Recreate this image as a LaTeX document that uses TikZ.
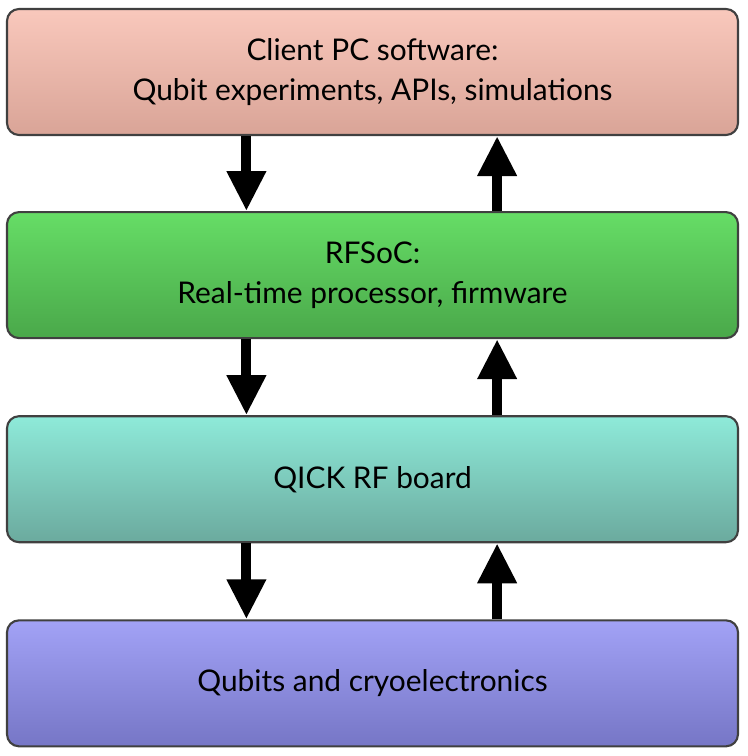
\documentclass[tikz,border=0pt]{standalone}
\usepackage{fontspec}
\setmainfont{Lato}
\usetikzlibrary{positioning,calc,arrows.meta}
\definecolor{pcTop}{HTML}{F9C8BC}\definecolor{pcBot}{HTML}{D9A497}
\definecolor{socTop}{HTML}{66DD66}\definecolor{socBot}{HTML}{4AA84A}
\definecolor{rfTop}{HTML}{8EEAD9}\definecolor{rfBot}{HTML}{6BAA9E}
\definecolor{qbTop}{HTML}{A2A2F6}\definecolor{qbBot}{HTML}{7676C6}
\tikzstyle{blk}= [draw=black!75, line width=1.2pt, rounded corners=0.24cm, minimum width=14.62cm, minimum height=2.52cm, align=center, font=\fontsize{17}{23}\selectfont]
\tikzstyle{arr}= [line width=0.2cm, -{Triangle[length=0.8cm, width=0.74cm]}]

\begin{document}
\begin{tikzpicture}
					\useasboundingbox (0,0) rectangle (14.96,15.12);
					\node[blk, top color=pcTop, bottom color=pcBot] at (7.45,13.68) (pc) {Client PC software:\\Qubit experiments, APIs, simulations};
					\node[blk, top color=socTop, bottom color=socBot, below=1.5cm of pc] (soc) {RFSoC:\\Real-time processor, firmware};
					\node[blk, top color=rfTop, bottom color=rfBot, below=1.52cm of soc] (rf) {QICK RF board};
					\node[blk, top color=qbTop, bottom color=qbBot, below=1.52cm of rf] (qb) {Qubits and cryoelectronics};
					% down and up arrows between the layers
					\foreach \a/\b in {pc/soc, soc/rf, rf/qb}{
						\draw[arr] ($(\a.south west)!0.328!(\a.south east)$) -- ($(\b.north west)!0.328!(\b.north east)$);
						\draw[arr] ($(\b.north west)!0.67!(\b.north east)$) -- ($(\a.south west)!0.67!(\a.south east)$);
					}
				\end{tikzpicture}
\end{document}
